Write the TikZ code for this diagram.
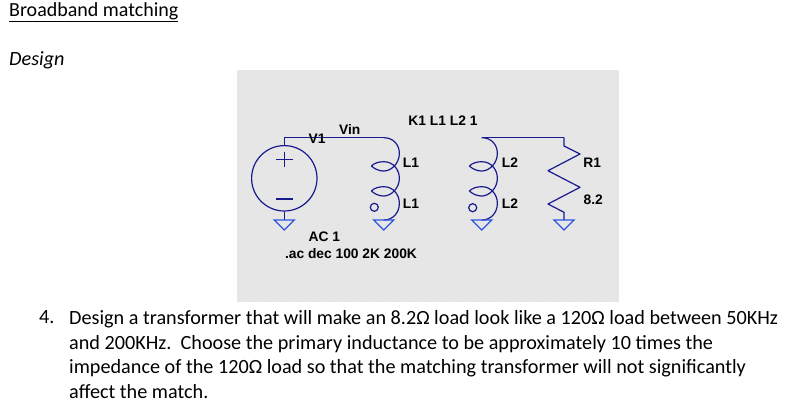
\documentclass[tikz,border=0pt]{standalone}
\usepackage{fontspec}
\usetikzlibrary{calc}
\setmainfont{Carlito}
\newfontfamily\labelfont{Liberation Sans}
\definecolor{panelgrey}{HTML}{E6E6E6}
\definecolor{griddot}{HTML}{D4D4D4}
\definecolor{wirenavy}{HTML}{1A1A90}
\definecolor{gndblue}{HTML}{2F55E0}
\tikzset{
  x=1pt,y=-1pt,
  wire/.style={draw=wirenavy,line width=1.5pt},
  part/.style={draw=wirenavy,line width=1.2pt,line join=round},
  gnd/.style={draw=gndblue,line width=1.3pt,line join=miter},
  lbl/.style={font=\labelfont\bfseries\fontsize{13.8}{16}\selectfont,text=black,inner sep=0pt},
  bodytext/.style={font=\fontsize{20.2}{24.5}\selectfont,text=black,inner sep=0pt,anchor=north west,align=left},
}
\newcommand{\coilshape}[2]{%
  \begin{scope}[shift={(#1,#2)},x=.3333pt,y=-.3333pt]
    \draw[part] (0,0) .. controls (30,0) and (47,22) .. (47,47)
      .. controls (47,78) and (22,100) .. (0,100)
      .. controls (-15,100) and (-28,93) .. (-37,85)
      .. controls (-28,76) and (-15,72) .. (0,72)
      .. controls (28,72) and (47,95) .. (47,122)
      .. controls (47,152) and (22,175) .. (0,175)
      .. controls (-15,175) and (-28,168) .. (-37,160)
      .. controls (-28,151) and (-15,147) .. (0,147)
      .. controls (28,147) and (47,170) .. (47,197)
      .. controls (47,225) and (28,247) .. (0,247);
  \end{scope}}
\newcommand{\gndshape}[1]{%
  \draw[gnd] ($(#1)+(-10,0)$) -- ($(#1)+(10,0)$) -- ($(#1)+(0,10)$) -- cycle;}
\begin{document}
\begin{tikzpicture}
\useasboundingbox (0,0) rectangle (811,405);
\fill[white] (0,0) rectangle (811,405);
\node[bodytext,font=\fontsize{20}{24.5}\selectfont] (title) at (9,2) {\underline{Broadband matching}};
\node[bodytext] (design) at (9,51) {\textit{Design}};
\fill[panelgrey] (237,70) rectangle (619,302);
\foreach \i in {0,...,23}
  \foreach \j in {0,...,14}
    \fill[griddot] ({237+8+16*\i},{70+4+16*\j}) circle (.5);
% source
\node[part,circle,minimum size=65.4pt,inner sep=0pt] (v1) at (284.3,178.3) {};
\draw[part] (276,159.5) -- (292.6,159.5) (284.3,151.5) -- (284.3,167);
\draw[part] (276,199) -- (292.6,199);
\coordinate (v1top) at (284.3,137.7);
\coordinate (g1) at (284.3,220);
\draw[part] (v1.south) -- (g1);
\gndshape{g1}
% primary coil
\coordinate (coilp) at (383.7,137.7);
\coilshape{383.7}{137.7}
\draw[wire] (v1.north) -- (v1top) -- (coilp);
\coordinate (g2) at (383.7,220);
\gndshape{g2}
\node[draw=wirenavy,line width=1.2pt,circle,minimum size=8pt,inner sep=0pt] (d1) at (374.3,207.3) {};
% secondary coil
\coordinate (coils) at (481.7,137.7);
\coilshape{481.7}{137.7}
\coordinate (g3) at (481.7,220);
\gndshape{g3}
\node[draw=wirenavy,line width=1.2pt,circle,minimum size=8pt,inner sep=0pt] (d2) at (472.7,207.7) {};
% resistor
\coordinate (rtop) at (564,137.7);
\coordinate (g4) at (564,220);
\draw[wire] (coils) -- (rtop);
\draw[part] (rtop) -- (564,146) -- (580,154) -- (548,170.7) -- (580,187.3) -- (548,204) -- (564,212.3) -- (g4);
\gndshape{g4}
% labels
\node[lbl] (lv1) at (317,138.5) {V1};
\node[lbl] (lvin) at (349.7,129.3) {Vin};
\node[lbl] (lk) at (443,121) {K1 L1 L2 1};
\node[lbl] (ll1a) at (411,162.7) {L1};
\node[lbl] (ll1b) at (411,204) {L1};
\node[lbl] (ll2a) at (510,162.7) {L2};
\node[lbl] (ll2b) at (510,204) {L2};
\node[lbl] (lr1) at (592.3,162.7) {R1};
\node[lbl] (lr2) at (593.3,199.3) {8.2};
\node[lbl] (lac) at (324.3,236.7) {AC 1};
\node[lbl] (ldir) at (351,253.3) {.ac dec 100 2K 200K};
% question
\node[bodytext] (num) at (39,310.5) {4.};
\node[bodytext] (para) at (69,310.5) {Design a transformer that will make an 8.2Ω load look like a 120Ω load between 50KHz\\
and 200KHz.\ \ Choose the primary inductance to be approximately 10 times the\\
impedance of the 120Ω load so that the matching transformer will not significantly\\
affect the match.};
\end{tikzpicture}
\end{document}
